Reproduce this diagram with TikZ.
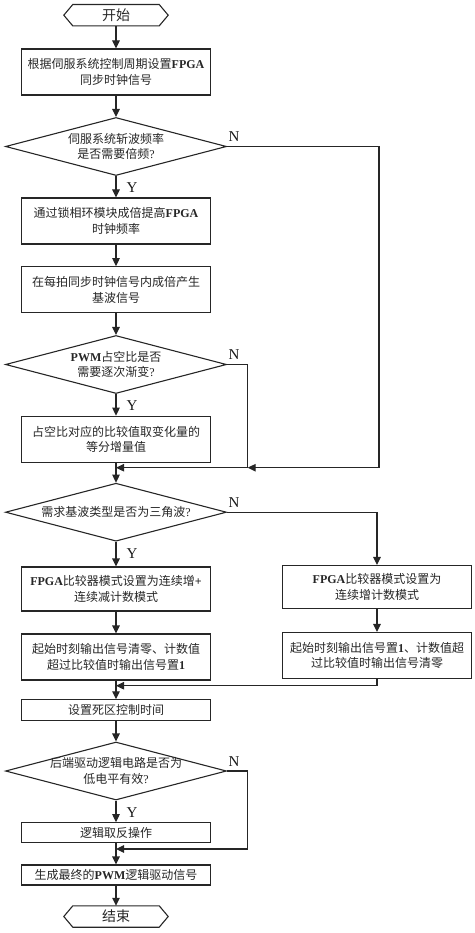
\documentclass[tikz,border=0pt]{standalone}
\usepackage{fontspec}
\setmainfont{Noto Sans CJK SC}
\newfontfamily\latfont{Liberation Serif}
\newcommand\enb[1]{{\latfont\bfseries #1}}
\newcommand\enr[1]{{\latfont #1}}
\usetikzlibrary{arrows.meta,shapes.geometric,calc}
\begin{document}
\begin{tikzpicture}[x=1pt,y=-1pt,
  ln/.style={draw=black!85, line width=1.1pt},
  arr/.style={ln, -{Triangle[length=8pt,width=7.5pt]}},
  box/.style={draw=black!85, line width=1.1pt, rectangle, minimum width=189pt, inner sep=0pt,
    align=center, font=\fontsize{12}{15.5}\selectfont, text=black!85},
  dia/.style={draw=black!85, line width=1.1pt, diamond, inner sep=0pt,
    minimum width=221pt, minimum height=58pt},
  dtext/.style={align=center, font=\fontsize{12}{15.5}\selectfont, text=black!85},
  term/.style={inner sep=0pt, minimum width=104pt, minimum height=21pt,
    font=\fontsize{14}{16}\selectfont, text=black!85},
  lbl/.style={font=\latfont\fontsize{15}{15}\selectfont, text=black!90, inner sep=0pt}
]
\useasboundingbox (0,0) rectangle (474,933);

% start
\node[term] (start) at (116,15.2) {开始};
\draw[ln] (start.west) -- ([xshift=9pt]start.north west) -- ([xshift=-9pt]start.north east)
  -- (start.east) -- ([xshift=-9pt]start.south east) -- ([xshift=9pt]start.south west) -- cycle;

\node[box, minimum height=46pt] (b1) at (116,72) {根据伺服系统控制周期设置\enb{FPGA}\\同步时钟信号};
\node[dia] (d1) at (116,146.5) {};
\node[dtext] (t1) at (d1.center) {伺服系统斩波频率\\是否需要倍频\enr{?}};
\node[box, minimum height=46pt] (b2) at (116,221) {通过锁相环模块成倍提高\enb{FPGA}\\时钟频率};
\node[box, minimum height=46pt] (b3) at (116,289.7) {在每拍同步时钟信号内成倍产生\\基波信号};
\node[dia] (d2) at (116,364.5) {};
\node[dtext] (t2) at (d2.center) {\enb{PWM}占空比是否\\需要逐次渐变\enr{?}};
\node[box, minimum height=46pt] (b4) at (116,439.2) {占空比对应的比较值取变化量的\\等分增量值};
\node[dia] (d3) at (116,512.2) {};
\node[dtext] (t3) at (d3.center) {需求基波类型是否为三角波\enr{?}};
\node[box, minimum height=44pt] (b5L) at (116,589) {\enb{FPGA}比较器模式设置为连续增\enb{+}\\连续减计数模式};
\node[box, minimum height=43pt] (b5R) at (377,587) {\enb{FPGA}比较器模式设置为\\连续增计数模式};
\node[box, minimum height=46pt] (b6L) at (116,657) {起始时刻输出信号清零、计数值\\超过比较值时输出信号置\enb{1}};
\node[box, minimum height=46pt] (b6R) at (377,655.5) {起始时刻输出信号置\enb{1}、计数值超\\过比较值时输出信号清零};
\node[box, minimum height=21pt] (b7) at (116,710.3) {设置死区控制时间};
\node[dia] (d4) at (116,771) {};
\node[dtext] (t4) at (d4.center) {后端驱动逻辑电路是否为\\低电平有效\enr{?}};
\node[box, minimum height=20pt] (b8) at (116,832.7) {逻辑取反操作};
\node[box, minimum height=20pt] (b9) at (116,875) {生成最终的\enb{PWM}逻辑驱动信号};
\node[term] (end) at (116,916.5) {结束};
\draw[ln] (end.west) -- ([xshift=9pt]end.north west) -- ([xshift=-9pt]end.north east)
  -- (end.east) -- ([xshift=-9pt]end.south east) -- ([xshift=9pt]end.south west) -- cycle;

% merge coordinates
\coordinate (m1) at (116,467.7);
\coordinate (j1) at (247.7,467.7);
\coordinate (r1) at (379,467.7);
\coordinate (m2) at (116,685.7);
\coordinate (m3) at (116,849);
\coordinate (j3) at (247.7,849);

% main trunk
\draw[arr] (start) -- (b1);
\draw[arr] (b1) -- (d1);
\draw[arr] (d1) -- (b2);
\draw[arr] (b2) -- (b3);
\draw[arr] (b3) -- (d2);
\draw[arr] (d2) -- (b4);
\draw[arr] (b4) -- (d3);
\draw[arr] (d3) -- (b5L);
\draw[arr] (b5L) -- (b6L);
\draw[arr] (b5R) -- (b6R);
\draw[arr] (b6L) -- (b7);
\draw[arr] (b7) -- (d4);
\draw[arr] (d4) -- (b8);
\draw[arr] (b8) -- (b9);
\draw[arr] (b9) -- (end);

% N branches
\draw[arr] (d1.east) -| (r1) -- (j1);
\draw[arr] (d2.east) -| (j1) -- (m1);
\draw[arr] (d3.east) -| (b5R.north);
\draw[arr] (b6R.south) |- (m2);
\draw[arr] (d4.east) -| (j3) -- (m3);

% labels
\node[lbl] (n1) at ($(d1.east)+(7,-9.5)$) {N};
\node[lbl] (n2) at ($(d2.east)+(7,-9.5)$) {N};
\node[lbl] (n3) at ($(d3.east)+(7,-9.5)$) {N};
\node[lbl] (n4) at ($(d4.east)+(7,-9.5)$) {N};
\node[lbl] (y1) at ($(d1.south)+(16,12)$) {Y};
\node[lbl] (y2) at ($(d2.south)+(16,12)$) {Y};
\node[lbl] (y3) at ($(d3.south)+(16,12)$) {Y};
\node[lbl] (y4) at ($(d4.south)+(16,12)$) {Y};
\end{tikzpicture}
\end{document}
